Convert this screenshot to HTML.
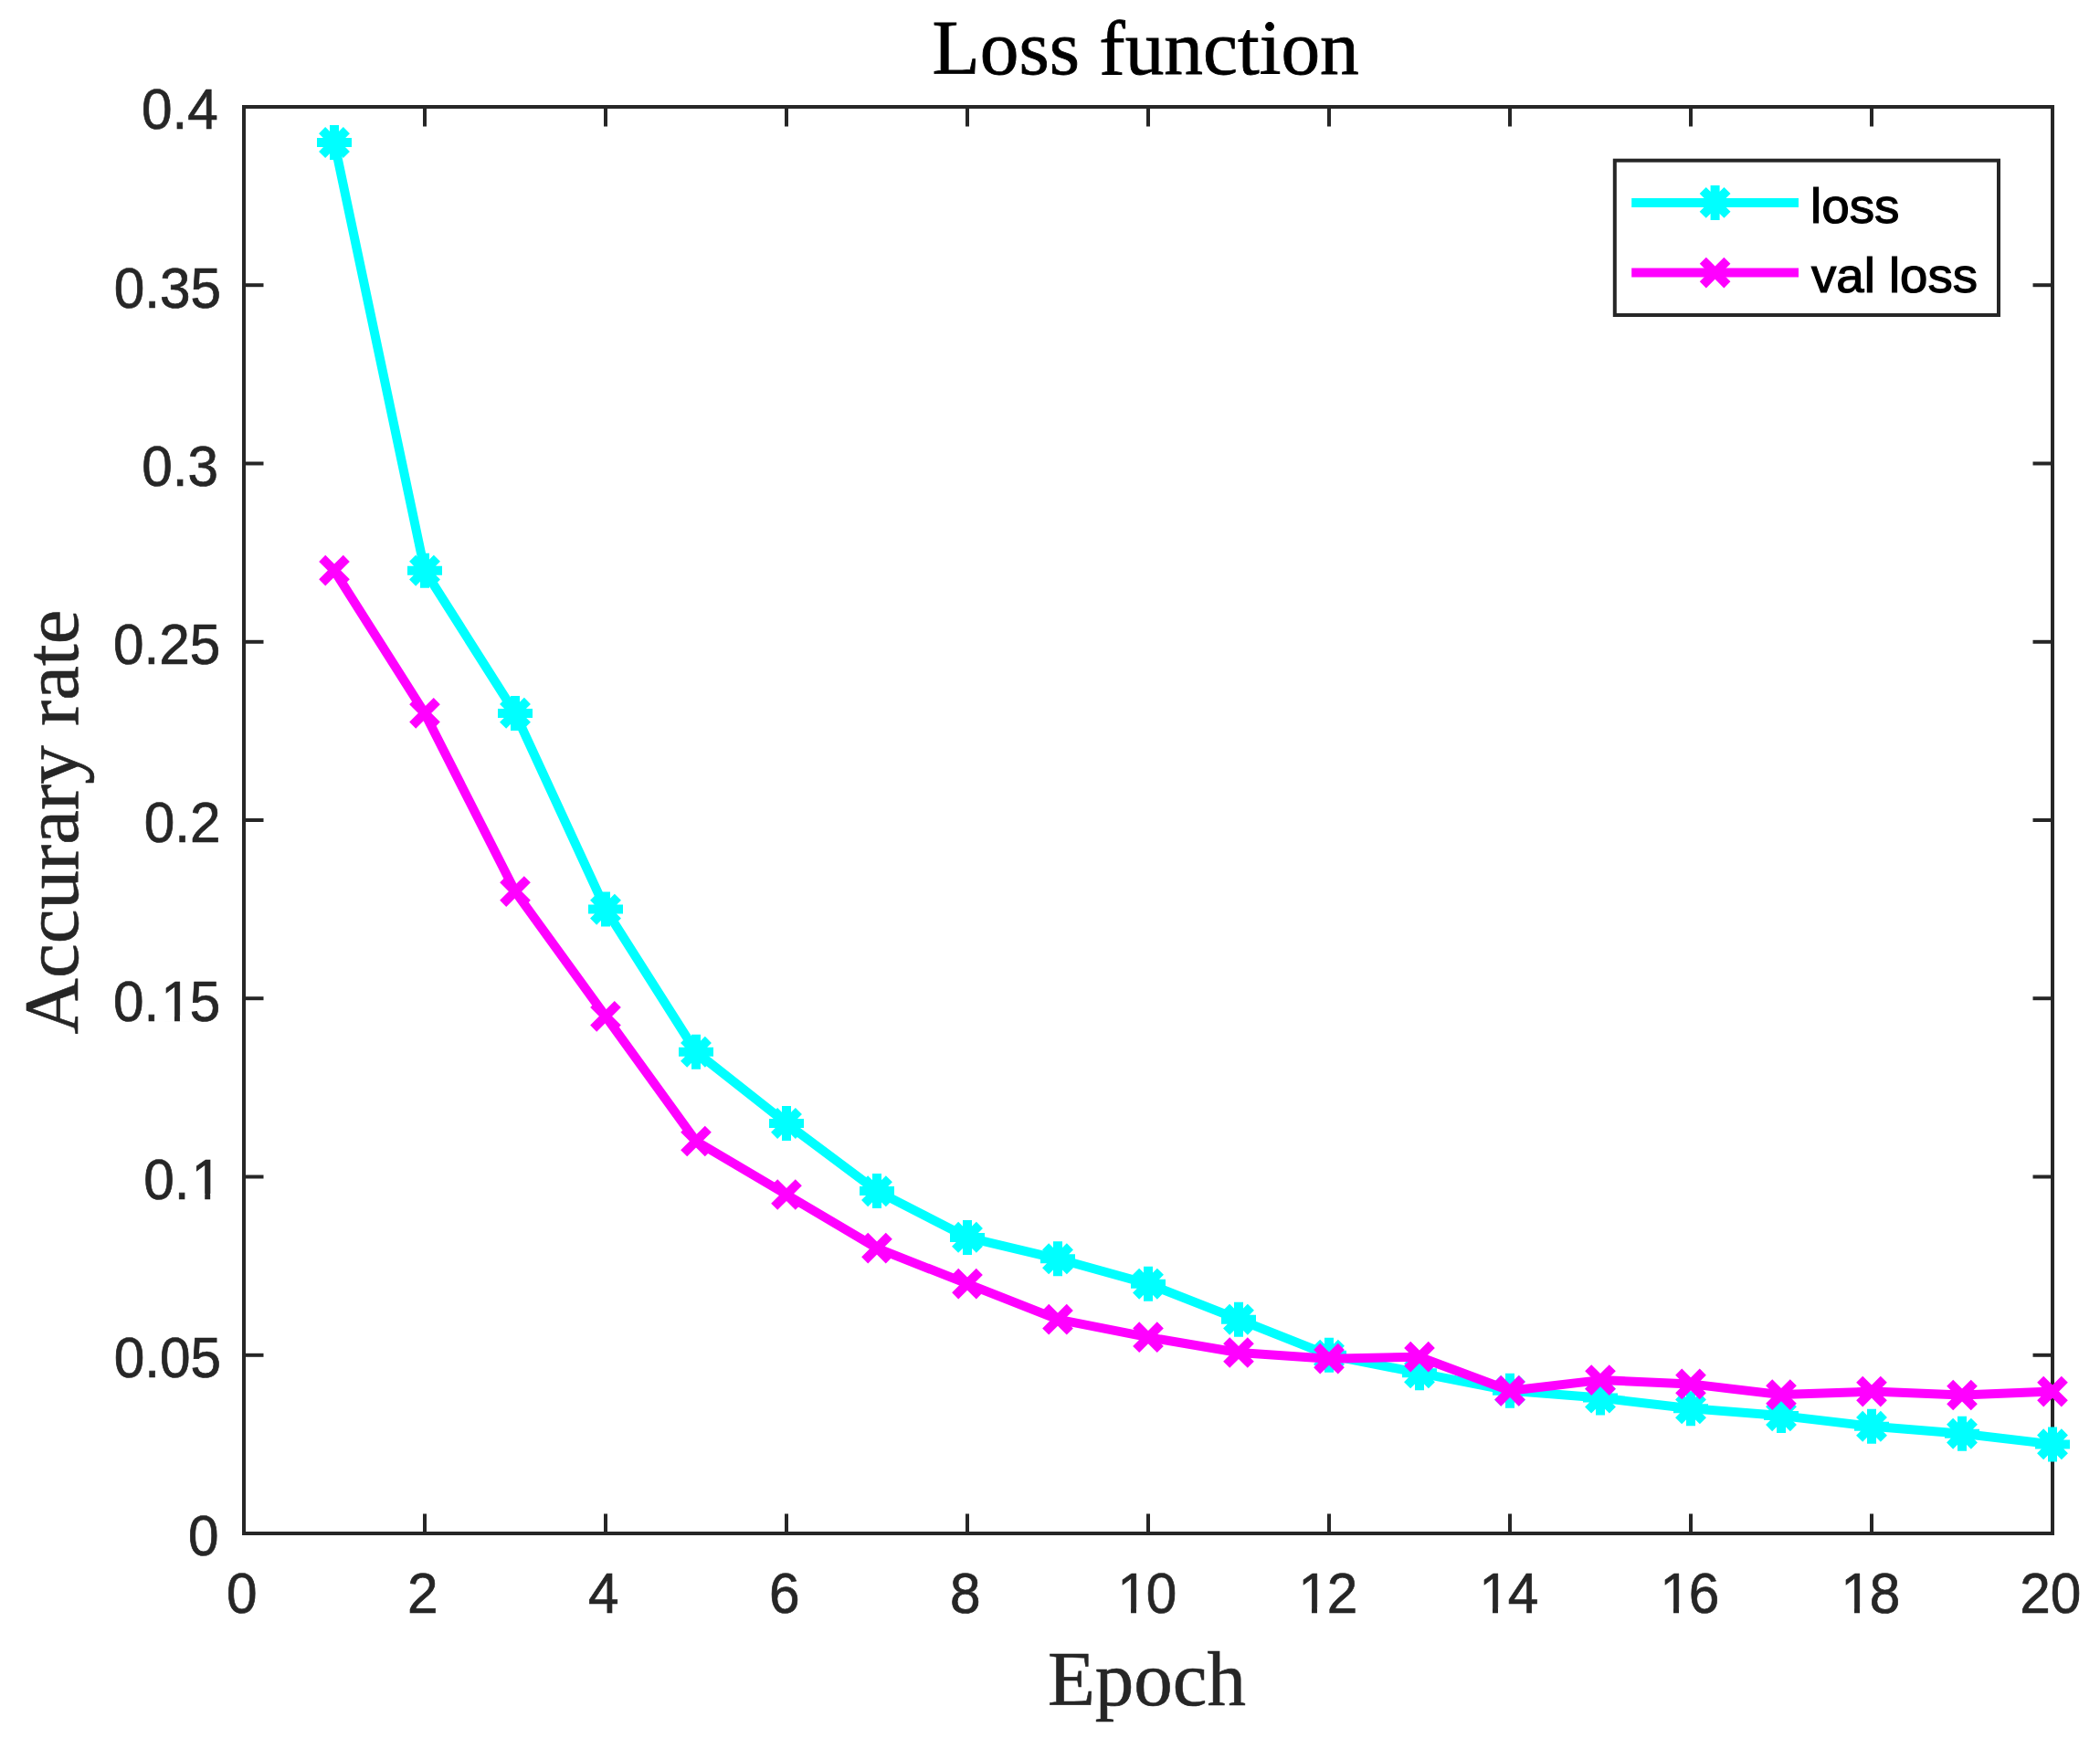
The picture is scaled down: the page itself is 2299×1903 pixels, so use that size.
<!DOCTYPE html>
<html lang="en">
<head>
<meta charset="utf-8">
<title>Loss function</title>
<style>
html,body{margin:0;padding:0;background:#fff;}
body{width:2299px;height:1903px;overflow:hidden;}
svg{display:block;}
.tick{font-family:"Liberation Sans",Arial,Helvetica,sans-serif;font-size:60px;fill:#262626;stroke:#262626;stroke-width:0.7px;}
.leg{font-family:"Liberation Sans",Arial,Helvetica,sans-serif;font-size:54px;fill:#000;stroke:#000;stroke-width:1.2px;}
.lab{font-family:"Liberation Serif","Times New Roman",Times,serif;font-size:85px;fill:#262626;stroke:#262626;stroke-width:0.6px;}
.ttl{font-family:"Liberation Serif","Times New Roman",Times,serif;font-size:85.4px;fill:#000;stroke:#000;stroke-width:0.8px;}
</style>
</head>
<body>
<svg width="2299" height="1903" viewBox="0 0 2299 1903">
<rect x="0" y="0" width="2299" height="1903" fill="#ffffff"/>

<g stroke="#262626" stroke-width="4" fill="none" stroke-linecap="butt">
<rect x="267.0" y="117.0" width="1980.0" height="1562.0"/>
<line x1="267.0" y1="1679.0" x2="267.0" y2="1657.5"/>
<line x1="267.0" y1="117.0" x2="267.0" y2="138.5"/>
<line x1="465.0" y1="1679.0" x2="465.0" y2="1657.5"/>
<line x1="465.0" y1="117.0" x2="465.0" y2="138.5"/>
<line x1="663.0" y1="1679.0" x2="663.0" y2="1657.5"/>
<line x1="663.0" y1="117.0" x2="663.0" y2="138.5"/>
<line x1="861.0" y1="1679.0" x2="861.0" y2="1657.5"/>
<line x1="861.0" y1="117.0" x2="861.0" y2="138.5"/>
<line x1="1059.0" y1="1679.0" x2="1059.0" y2="1657.5"/>
<line x1="1059.0" y1="117.0" x2="1059.0" y2="138.5"/>
<line x1="1257.0" y1="1679.0" x2="1257.0" y2="1657.5"/>
<line x1="1257.0" y1="117.0" x2="1257.0" y2="138.5"/>
<line x1="1455.0" y1="1679.0" x2="1455.0" y2="1657.5"/>
<line x1="1455.0" y1="117.0" x2="1455.0" y2="138.5"/>
<line x1="1653.0" y1="1679.0" x2="1653.0" y2="1657.5"/>
<line x1="1653.0" y1="117.0" x2="1653.0" y2="138.5"/>
<line x1="1851.0" y1="1679.0" x2="1851.0" y2="1657.5"/>
<line x1="1851.0" y1="117.0" x2="1851.0" y2="138.5"/>
<line x1="2049.0" y1="1679.0" x2="2049.0" y2="1657.5"/>
<line x1="2049.0" y1="117.0" x2="2049.0" y2="138.5"/>
<line x1="2247.0" y1="1679.0" x2="2247.0" y2="1657.5"/>
<line x1="2247.0" y1="117.0" x2="2247.0" y2="138.5"/>
<line x1="267.0" y1="1679.0" x2="288.5" y2="1679.0"/>
<line x1="2247.0" y1="1679.0" x2="2225.5" y2="1679.0"/>
<line x1="267.0" y1="1483.8" x2="288.5" y2="1483.8"/>
<line x1="2247.0" y1="1483.8" x2="2225.5" y2="1483.8"/>
<line x1="267.0" y1="1288.5" x2="288.5" y2="1288.5"/>
<line x1="2247.0" y1="1288.5" x2="2225.5" y2="1288.5"/>
<line x1="267.0" y1="1093.2" x2="288.5" y2="1093.2"/>
<line x1="2247.0" y1="1093.2" x2="2225.5" y2="1093.2"/>
<line x1="267.0" y1="898.0" x2="288.5" y2="898.0"/>
<line x1="2247.0" y1="898.0" x2="2225.5" y2="898.0"/>
<line x1="267.0" y1="702.8" x2="288.5" y2="702.8"/>
<line x1="2247.0" y1="702.8" x2="2225.5" y2="702.8"/>
<line x1="267.0" y1="507.5" x2="288.5" y2="507.5"/>
<line x1="2247.0" y1="507.5" x2="2225.5" y2="507.5"/>
<line x1="267.0" y1="312.2" x2="288.5" y2="312.2"/>
<line x1="2247.0" y1="312.2" x2="2225.5" y2="312.2"/>
<line x1="267.0" y1="117.0" x2="288.5" y2="117.0"/>
<line x1="2247.0" y1="117.0" x2="2225.5" y2="117.0"/>
</g>
<g class="tick">
<g transform="translate(264.8,1765.8) scale(1.005,1.045)"><text x="-16.68" y="0">0</text></g>
<g transform="translate(462.8,1765.8) scale(1.005,1.045)"><text x="-16.68" y="0">2</text></g>
<g transform="translate(660.8,1765.8) scale(1.005,1.045)"><text x="-16.68" y="0">4</text></g>
<g transform="translate(858.8,1765.8) scale(1.005,1.045)"><text x="-16.68" y="0">6</text></g>
<g transform="translate(1056.8,1765.8) scale(1.005,1.045)"><text x="-16.68" y="0">8</text></g>
<g transform="translate(1254.8,1765.8) scale(1.005,1.045)"><text x="-31.47 0.00" y="0">10</text><rect x="-28.10" y="-5.6" width="11.42" height="7" fill="#fff" stroke="none"/><rect x="-10.78" y="-5.6" width="10.95" height="7" fill="#fff" stroke="none"/></g>
<g transform="translate(1452.8,1765.8) scale(1.005,1.045)"><text x="-31.47 0.00" y="0">12</text><rect x="-28.10" y="-5.6" width="11.42" height="7" fill="#fff" stroke="none"/><rect x="-10.78" y="-5.6" width="10.95" height="7" fill="#fff" stroke="none"/></g>
<g transform="translate(1650.8,1765.8) scale(1.005,1.045)"><text x="-31.47 0.00" y="0">14</text><rect x="-28.10" y="-5.6" width="11.42" height="7" fill="#fff" stroke="none"/><rect x="-10.78" y="-5.6" width="10.95" height="7" fill="#fff" stroke="none"/></g>
<g transform="translate(1848.8,1765.8) scale(1.005,1.045)"><text x="-31.47 0.00" y="0">16</text><rect x="-28.10" y="-5.6" width="11.42" height="7" fill="#fff" stroke="none"/><rect x="-10.78" y="-5.6" width="10.95" height="7" fill="#fff" stroke="none"/></g>
<g transform="translate(2046.8,1765.8) scale(1.005,1.045)"><text x="-31.47 0.00" y="0">18</text><rect x="-28.10" y="-5.6" width="11.42" height="7" fill="#fff" stroke="none"/><rect x="-10.78" y="-5.6" width="10.95" height="7" fill="#fff" stroke="none"/></g>
<g transform="translate(2244.8,1765.8) scale(1.005,1.045)"><text x="-33.37 0.00" y="0">20</text></g>
</g>
<g class="tick">
<g transform="translate(239.6,1703.3) scale(1.005,1.045)"><text x="-33.37" y="0">0</text></g>
<g transform="translate(242.0,1508.0) scale(1.005,1.045)"><text x="-116.78 -83.41 -66.74 -33.37" y="0">0.05</text></g>
<g transform="translate(241.0,1312.8) scale(1.005,1.045)"><text x="-83.41 -50.04 -31.47" y="0">0.1</text><rect x="-28.10" y="-5.6" width="11.42" height="7" fill="#fff" stroke="none"/><rect x="-10.78" y="-5.6" width="10.95" height="7" fill="#fff" stroke="none"/></g>
<g transform="translate(241.3,1117.5) scale(1.005,1.045)"><text x="-116.78 -83.41 -64.84 -33.37" y="0">0.15</text><rect x="-61.47" y="-5.6" width="11.42" height="7" fill="#fff" stroke="none"/><rect x="-44.15" y="-5.6" width="10.95" height="7" fill="#fff" stroke="none"/></g>
<g transform="translate(241.5,922.3) scale(1.005,1.045)"><text x="-83.41 -50.04 -33.37" y="0">0.2</text></g>
<g transform="translate(241.3,727.0) scale(1.005,1.045)"><text x="-116.78 -83.41 -66.74 -33.37" y="0">0.25</text></g>
<g transform="translate(239.0,531.8) scale(1.005,1.045)"><text x="-83.41 -50.04 -33.37" y="0">0.3</text></g>
<g transform="translate(242.0,336.6) scale(1.005,1.045)"><text x="-116.78 -83.41 -66.74 -33.37" y="0">0.35</text></g>
<g transform="translate(238.7,141.3) scale(1.005,1.045)"><text x="-83.41 -50.04 -33.37" y="0">0.4</text></g>
</g>
<text class="ttl" x="1254.2" y="81" text-anchor="middle">Loss function</text>
<text class="lab" x="1255.5" y="1867" text-anchor="middle">Epoch</text>
<text class="lab" transform="translate(85.3,900) rotate(-90)" text-anchor="middle">Accurary rate</text>
<polyline points="366.0,156.0 465.0,624.7 564.0,780.9 663.0,995.6 762.0,1151.8 861.0,1229.9 960.0,1304.1 1059.0,1354.9 1158.0,1378.3 1257.0,1405.7 1356.0,1444.7 1455.0,1483.8 1554.0,1503.3 1653.0,1522.8 1752.0,1530.6 1851.0,1542.3 1950.0,1550.1 2049.0,1561.8 2148.0,1569.7 2247.0,1581.4" fill="none" stroke="#00ffff" stroke-width="10" stroke-linejoin="round" stroke-linecap="butt"/>
<g stroke="#00ffff" stroke-width="10" stroke-linecap="butt">
<path d="M347.0 156.0H385.0M366.0 137.0V175.0M352.6 142.6L379.4 169.5M352.6 169.5L379.4 142.6"/>
<path d="M446.0 624.7H484.0M465.0 605.7V643.7M451.6 611.2L478.4 638.1M451.6 638.1L478.4 611.2"/>
<path d="M545.0 780.9H583.0M564.0 761.9V799.9M550.6 767.4L577.4 794.3M550.6 794.3L577.4 767.4"/>
<path d="M644.0 995.6H682.0M663.0 976.6V1014.6M649.6 982.2L676.4 1009.1M649.6 1009.1L676.4 982.2"/>
<path d="M743.0 1151.8H781.0M762.0 1132.8V1170.8M748.6 1138.4L775.4 1165.3M748.6 1165.3L775.4 1138.4"/>
<path d="M842.0 1229.9H880.0M861.0 1210.9V1248.9M847.6 1216.5L874.4 1243.4M847.6 1243.4L874.4 1216.5"/>
<path d="M941.0 1304.1H979.0M960.0 1285.1V1323.1M946.6 1290.7L973.4 1317.6M946.6 1317.6L973.4 1290.7"/>
<path d="M1040.0 1354.9H1078.0M1059.0 1335.9V1373.9M1045.6 1341.4L1072.4 1368.3M1045.6 1368.3L1072.4 1341.4"/>
<path d="M1139.0 1378.3H1177.0M1158.0 1359.3V1397.3M1144.6 1364.9L1171.4 1391.8M1144.6 1391.8L1171.4 1364.9"/>
<path d="M1238.0 1405.7H1276.0M1257.0 1386.7V1424.7M1243.6 1392.2L1270.4 1419.1M1243.6 1419.1L1270.4 1392.2"/>
<path d="M1337.0 1444.7H1375.0M1356.0 1425.7V1463.7M1342.6 1431.3L1369.4 1458.1M1342.6 1458.1L1369.4 1431.3"/>
<path d="M1436.0 1483.8H1474.0M1455.0 1464.8V1502.8M1441.6 1470.3L1468.4 1497.2M1441.6 1497.2L1468.4 1470.3"/>
<path d="M1535.0 1503.3H1573.0M1554.0 1484.3V1522.3M1540.6 1489.8L1567.4 1516.7M1540.6 1516.7L1567.4 1489.8"/>
<path d="M1634.0 1522.8H1672.0M1653.0 1503.8V1541.8M1639.6 1509.4L1666.4 1536.2M1639.6 1536.2L1666.4 1509.4"/>
<path d="M1733.0 1530.6H1771.0M1752.0 1511.6V1549.6M1738.6 1517.2L1765.4 1544.0M1738.6 1544.0L1765.4 1517.2"/>
<path d="M1832.0 1542.3H1870.0M1851.0 1523.3V1561.3M1837.6 1528.9L1864.4 1555.8M1837.6 1555.8L1864.4 1528.9"/>
<path d="M1931.0 1550.1H1969.0M1950.0 1531.1V1569.1M1936.6 1536.7L1963.4 1563.6M1936.6 1563.6L1963.4 1536.7"/>
<path d="M2030.0 1561.8H2068.0M2049.0 1542.8V1580.8M2035.6 1548.4L2062.4 1575.3M2035.6 1575.3L2062.4 1548.4"/>
<path d="M2129.0 1569.7H2167.0M2148.0 1550.7V1588.7M2134.6 1556.2L2161.4 1583.1M2134.6 1583.1L2161.4 1556.2"/>
<path d="M2228.0 1581.4H2266.0M2247.0 1562.4V1600.4M2233.6 1567.9L2260.4 1594.8M2233.6 1594.8L2260.4 1567.9"/>
</g>
<polyline points="366.0,624.7 465.0,780.9 564.0,976.1 663.0,1112.8 762.0,1249.5 861.0,1308.0 960.0,1366.6 1059.0,1405.7 1158.0,1444.7 1257.0,1464.2 1356.0,1481.0 1455.0,1487.7 1554.0,1485.7 1653.0,1522.8 1752.0,1511.1 1851.0,1515.4 1950.0,1527.1 2049.0,1523.6 2148.0,1527.5 2247.0,1523.6" fill="none" stroke="#ff00ff" stroke-width="10" stroke-linejoin="round" stroke-linecap="butt"/>
<g stroke="#ff00ff" stroke-width="10" stroke-linecap="butt">
<path d="M352.7 611.4L379.3 637.9M352.7 637.9L379.3 611.4"/>
<path d="M451.7 767.6L478.3 794.1M451.7 794.1L478.3 767.6"/>
<path d="M550.7 962.8L577.3 989.4M550.7 989.4L577.3 962.8"/>
<path d="M649.7 1099.5L676.3 1126.1M649.7 1126.1L676.3 1099.5"/>
<path d="M748.7 1236.2L775.3 1262.7M748.7 1262.7L775.3 1236.2"/>
<path d="M847.7 1294.7L874.3 1321.3M847.7 1321.3L874.3 1294.7"/>
<path d="M946.7 1353.3L973.3 1379.9M946.7 1379.9L973.3 1353.3"/>
<path d="M1045.7 1392.4L1072.3 1418.9M1045.7 1418.9L1072.3 1392.4"/>
<path d="M1144.7 1431.4L1171.3 1458.0M1144.7 1458.0L1171.3 1431.4"/>
<path d="M1243.7 1450.9L1270.3 1477.5M1243.7 1477.5L1270.3 1450.9"/>
<path d="M1342.7 1467.7L1369.3 1494.3M1342.7 1494.3L1369.3 1467.7"/>
<path d="M1441.7 1474.4L1468.3 1500.9M1441.7 1500.9L1468.3 1474.4"/>
<path d="M1540.7 1472.4L1567.3 1499.0M1540.7 1499.0L1567.3 1472.4"/>
<path d="M1639.7 1509.5L1666.3 1536.1M1639.7 1536.1L1666.3 1509.5"/>
<path d="M1738.7 1497.8L1765.3 1524.4M1738.7 1524.4L1765.3 1497.8"/>
<path d="M1837.7 1502.1L1864.3 1528.7M1837.7 1528.7L1864.3 1502.1"/>
<path d="M1936.7 1513.8L1963.3 1540.4M1936.7 1540.4L1963.3 1513.8"/>
<path d="M2035.7 1510.3L2062.3 1536.9M2035.7 1536.9L2062.3 1510.3"/>
<path d="M2134.7 1514.2L2161.3 1540.8M2134.7 1540.8L2161.3 1514.2"/>
<path d="M2233.7 1510.3L2260.3 1536.9M2233.7 1536.9L2260.3 1510.3"/>
</g>
<rect x="1767.8" y="175.7" width="420.2" height="169.3" fill="#fff" stroke="#262626" stroke-width="4"/>
<line x1="1786.2" y1="221.9" x2="1969" y2="221.9" stroke="#00ffff" stroke-width="10"/>
<g stroke="#00ffff" stroke-width="10"><path d="M1858.6 221.9H1896.6M1877.6 202.9V240.9M1864.2 208.5L1891.0 235.3M1864.2 235.3L1891.0 208.5"/></g>
<line x1="1786.2" y1="298.6" x2="1969" y2="298.6" stroke="#ff00ff" stroke-width="10"/>
<g stroke="#ff00ff" stroke-width="10"><path d="M1864.3 285.3L1890.9 311.9M1864.3 311.9L1890.9 285.3"/></g>
<text class="leg" x="1982" y="244" textLength="97.5" lengthAdjust="spacingAndGlyphs">loss</text>
<text class="leg" x="1983" y="319.9" textLength="182" lengthAdjust="spacingAndGlyphs">val loss</text>
</svg>
</body>
</html>
